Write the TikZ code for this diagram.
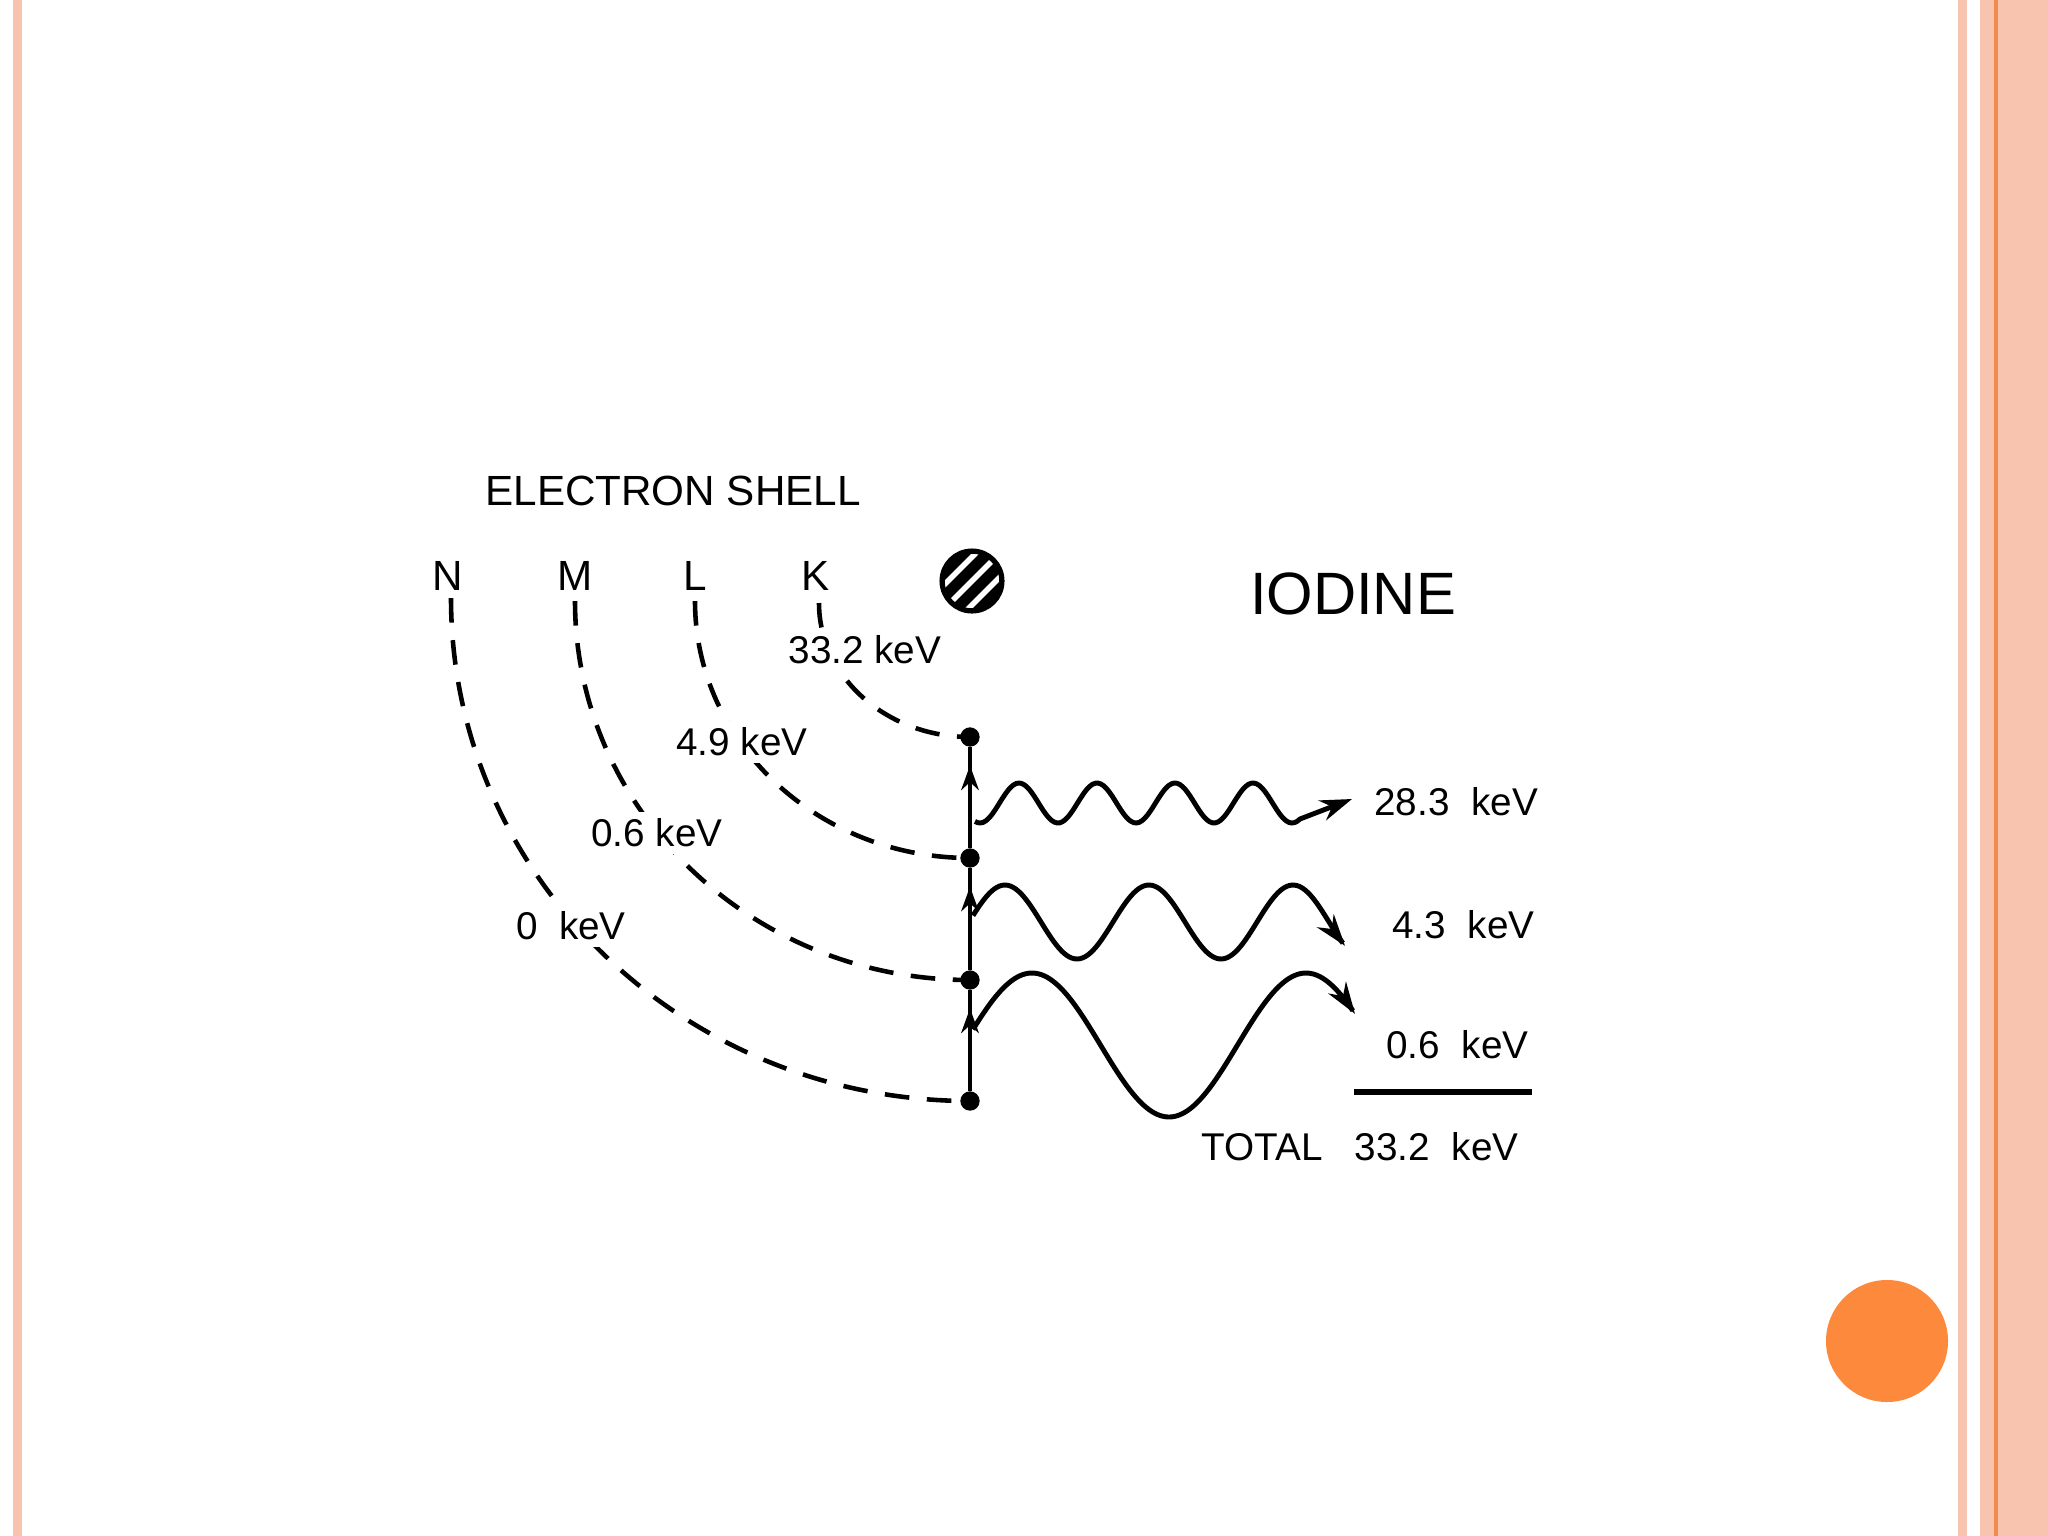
\documentclass[tikz,border=0pt]{standalone}
\usepackage{fontspec}
\setmainfont{Liberation Sans}
\usetikzlibrary{arrows.meta,decorations.markings}
\definecolor{pinkb}{RGB}{248,196,176}
\definecolor{orangeb}{RGB}{240,140,80}
\definecolor{dotor}{RGB}{253,137,60}
\begin{document}
\begin{tikzpicture}[x=0.01cm,y=-0.01cm,
  dsh/.style={dashed,dash pattern=on 7pt off 5pt,line width=1.3pt},
  wav/.style={line width=1.4pt,-{Stealth[length=9pt,width=6pt]}},
  dotn/.style={circle,fill=black,inner sep=0pt,minimum size=5.5pt},
  shell/.style={font=\fontsize{12}{12}\selectfont},
  lbl/.style={font=\fontsize{11}{11}\selectfont,fill=white,inner sep=2pt},
  rl/.style={font=\fontsize{11}{11}\selectfont,anchor=west},
  upar/.style={postaction={decorate},decoration={markings,mark=at position 0.82 with {\arrow{Stealth[length=7pt,width=5pt]}}}}]
\useasboundingbox (0,0) rectangle (2048,1536);
\fill[white] (0,0) rectangle (2048,1536);
% borders
\fill[pinkb] (13,0) rectangle (22,1536);
\fill[pinkb] (1958,0) rectangle (1967,1536);
\fill[pinkb] (1980,0) rectangle (2048,1536);
\fill[orangeb] (1994,0) rectangle (1998,1536);
\node[circle,fill=dotor,minimum size=34.7pt,inner sep=0pt] (od) at (1887,1341) {};
% titles
\node[shell] (es) at (673,491) {ELECTRON SHELL};
\node[font=\fontsize{17}{17}\selectfont] (io) at (1353,594) {IODINE};
\node[shell] (N) at (448,576) {N};
\node[shell] (M) at (575,576) {M};
\node[shell] (L) at (695,576) {L};
\node[shell] (K) at (816,576) {K};
% nucleus
\node[circle,draw,line width=1.5pt,minimum size=17pt,inner sep=0pt] (nuc) at (972,581) {};
\begin{scope}
\clip (972,581) circle (30);
\foreach \i in {-60,-36,...,60} \draw[line width=3.2pt] (972+\i-40,581+40) -- (972+\i+40,581-40);
\end{scope}
% dots
\node[dotn] (d1) at (970,737) {};
\node[dotn] (d2) at (970,858) {};
\node[dotn] (d3) at (970,980) {};
\node[dotn] (d4) at (970,1101) {};
% dashed shells
\draw[dsh] (451,598) arc[start angle=180,end angle=90,x radius=519,y radius=503];
\draw[dsh] (575,601) arc[start angle=180,end angle=90,x radius=395,y radius=379];
\draw[dsh] (695,601) arc[start angle=180,end angle=90,x radius=275,y radius=257];
\draw[dsh] (819,603) arc[start angle=180,end angle=90,x radius=151,y radius=134];
\node[lbl] (k1) at (865,650) {33.2 keV};
\node[lbl] (k2) at (742,742) {4.9 keV};
\node[lbl] (k3) at (657,833) {0.6 keV};
\node[lbl] (k4) at (571,926) {0 \ keV};
% vertical transitions
\draw[line width=1.4pt,upar] (d2) -- (d1);
\draw[line width=1.4pt,upar] (d3) -- (d2);
\draw[line width=1.4pt,upar] (d4) -- (d3);
% waves
\draw[wav] plot[domain=975:1300,samples=120,smooth] (\x,{803+20*cos(360/78*(\x-980))}) -- (1352,799);
\draw[wav] plot[domain=973:1345,samples=140,smooth] (\x,{922-37*cos(2.5*(\x-1005))});
\draw[wav] plot[domain=973:1355,samples=140,smooth] (\x,{1045-72*cos(360/274*(\x-1032))});
% labels
\node[rl] (e1) at (1362,802) {28.3 \ keV};
\node[rl] (e2) at (1380,925) {4.3 \ keV};
\node[rl] (e3) at (1374,1045) {0.6 \ keV};
\coordinate (la) at (1354,1092);
\coordinate (lb) at (1532,1092);
\draw[line width=1.5pt] (la) -- (lb);
\node[font=\fontsize{11}{11}\selectfont] (tot) at (1360,1147) {TOTAL \ \ 33.2 \ keV};
\end{tikzpicture}
\end{document}
